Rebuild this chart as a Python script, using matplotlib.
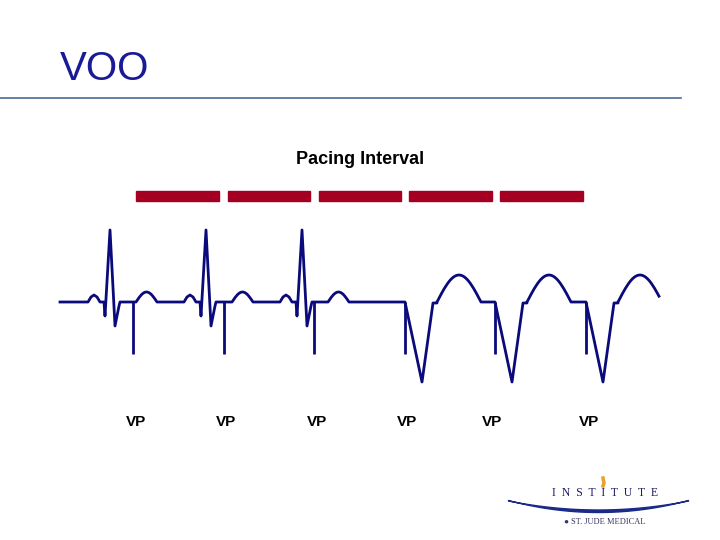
import numpy as np
import matplotlib.pyplot as plt
from matplotlib.patches import Rectangle

# slide in pixel coordinates
baseline = 302
r_peaks = [110, 206, 302]          # intrinsic R waves
spikes = [133, 224, 314, 405, 495, 586]  # ventricular pacing spikes
paced_beats = [405, 495, 586]       # captured paced beats
bar_starts = [136, 228, 319, 409, 500]
bar_ends = [219, 310, 401, 492, 583]
vp_labels = ['VP'] * 6
vp_x = [136, 226, 317, 407, 492, 589]

navy = '#0a0a7a'

def intrinsic(r):
    xs = [r - 22, r - 19, r - 16, r - 13, r - 10, r - 6, r - 5, r, r + 5, r + 9, r + 10]
    ys = [302, 297, 295, 297, 302, 302, 316, 230, 326, 306, 302]
    t = np.linspace(0, np.pi, 20)
    tx = r + 26 + 21 * t / np.pi
    ty = baseline - 10 * np.sin(t)
    return list(xs) + list(tx), list(ys) + list(ty)

def paced(s):
    xs = [s, s + 17, s + 28, s + 32]
    ys = [302, 382, 303, 303]
    t = np.linspace(0, np.pi, 30)
    dx = s + 32 + 44 * t / np.pi
    dy = 302 - 27 * np.sin(t)
    return xs + list(dx), ys + list(dy)

xs, ys = [60], [baseline]
for r in r_peaks:
    a, b = intrinsic(r)
    xs += a
    ys += b
for i, s in enumerate(paced_beats):
    xs.append(s)
    ys.append(baseline)
    a, b = paced(s)
    if i == len(paced_beats) - 1:
        keep = [k for k, v in enumerate(a) if v <= 660]
        a = [a[k] for k in keep]
        b = [b[k] for k in keep]
    xs += a
    ys += b

fig = plt.figure(figsize=(7.2, 5.4), dpi=100)
ax = fig.add_axes([0, 0, 1, 1])
ax.set_xlim(0, 720)
ax.set_ylim(540, 0)
ax.axis('off')

ax.plot(xs, ys, color=navy, lw=2, solid_joinstyle='round')
ax.vlines(spikes, baseline, 354, color=navy, lw=2)

for a, b in zip(bar_starts, bar_ends):
    ax.add_patch(Rectangle((a, 191), b - a, 10, color='#a50021'))

for x, lab in zip(vp_x, vp_labels):
    ax.text(x, 422, lab, ha='center', va='center', fontsize=11, fontweight='bold', family='Liberation Sans')

ax.text(360, 160, 'Pacing Interval', ha='center', va='center', fontsize=13, fontweight='bold',
        family='Liberation Sans')
ax.text(60, 69, 'VOO', ha='left', va='center', fontsize=29, color='#1a1a99', family='Liberation Sans')
ax.plot([0, 681], [98, 98], color='#4a6a9a', lw=1.2)

# logo
ax.text(605, 493, 'I  N  S  T  I  T  U  T  E', ha='center', va='center', fontsize=8.5,
        family='Liberation Serif', color='#1a1a66')
ax.plot([603, 604, 603], [478, 483, 486], color='#e8a030', lw=2.5)
t = np.linspace(-1, 1, 50)
ax.fill_between(598 + 90 * t, 500 + 12 * (1 - t ** 2), 500 + 9 * (1 - t ** 2) + 0.5, color='#1a2a88')
ax.text(605, 522, '\u25CF ST. JUDE MEDICAL', ha='center', va='center', fontsize=6,
        family='Liberation Serif', color='#333366')

fig.savefig('out.png', dpi=100)
